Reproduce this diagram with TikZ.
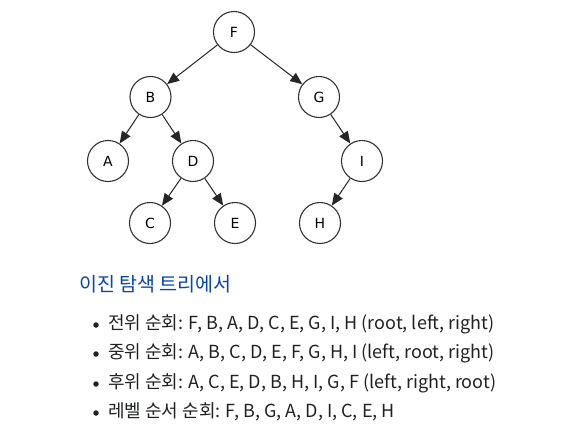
\documentclass[tikz,border=0pt]{standalone}
\usepackage{fontspec}
\setmainfont{DejaVu Sans}
\newfontfamily\kr{Noto Sans CJK KR}
\usetikzlibrary{arrows.meta}
\definecolor{linkblue}{HTML}{0645AD}
\definecolor{txt}{HTML}{202122}
\begin{document}
\begin{tikzpicture}[x=1pt,y=-1pt,
  tnode/.style={circle,draw=black!80,line width=1.1pt,minimum size=41pt,inner sep=0pt,font=\fontsize{14}{14}\selectfont},
  edge/.style={draw=black!85,line width=1pt,-{Triangle[length=12pt,width=10pt]}},
  line/.style={anchor=base west,font=\kr\fontsize{18}{18}\selectfont,text=txt,inner sep=0pt},
  bullet/.style={circle,fill=txt,inner sep=0pt,minimum size=5.5pt}]
\useasboundingbox (0,0) rectangle (579,440);
\node[tnode] (F) at (234,32) {F};
\node[tnode] (B) at (150.5,97) {B};
\node[tnode] (G) at (319,97) {G};
\node[tnode] (A) at (108,161) {A};
\node[tnode] (D) at (193,161) {D};
\node[tnode] (I) at (362,161) {I};
\node[tnode] (C) at (150,223) {C};
\node[tnode] (E) at (235,223) {E};
\node[tnode] (H) at (320,223) {H};
\draw[edge] (F) -- (B);
\draw[edge] (F) -- (G);
\draw[edge] (B) -- (A);
\draw[edge] (B) -- (D);
\draw[edge] (D) -- (C);
\draw[edge] (D) -- (E);
\draw[edge] (G) -- (I);
\draw[edge] (I) -- (H);
\node[line,text=linkblue,font=\kr\fontsize{19.5}{19.5}\selectfont] (h) at (79,291) {이진 탐색 트리에서};
\node[bullet] (b1) at (96,325) {};
\node[bullet] (b2) at (96,354) {};
\node[bullet] (b3) at (96,384) {};
\node[bullet] (b4) at (96,413) {};
\node[line] (l1) at (108,329) {전위 순회: F, B, A, D, C, E, G, I, H (root, left, right)};
\node[line] (l2) at (108,358) {중위 순회: A, B, C, D, E, F, G, H, I (left, root, right)};
\node[line] (l3) at (108,388) {후위 순회: A, C, E, D, B, H, I, G, F (left, right, root)};
\node[line] (l4) at (108,417) {레벨 순서 순회: F, B, G, A, D, I, C, E, H};
\end{tikzpicture}
\end{document}
